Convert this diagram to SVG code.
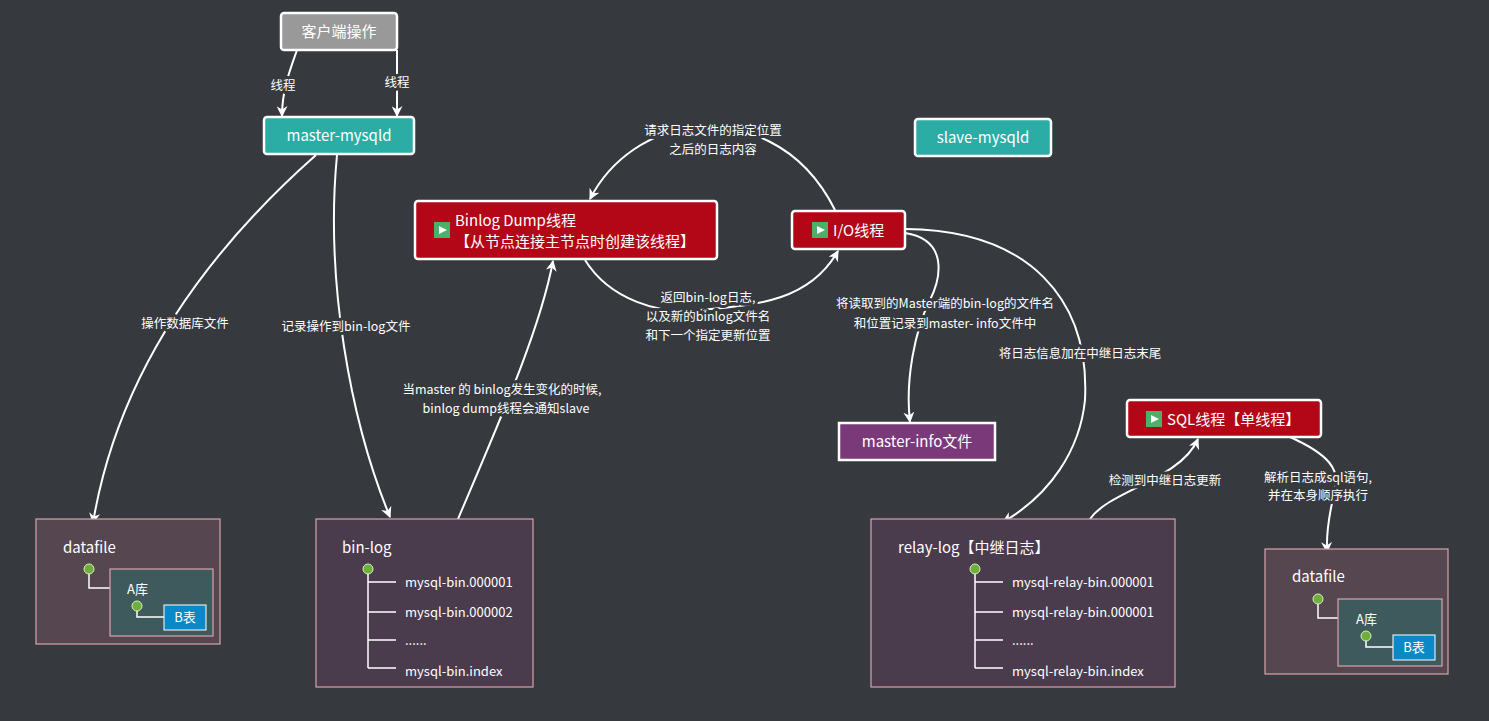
<svg xmlns="http://www.w3.org/2000/svg" width="1489" height="721" viewBox="0 0 1489 721">
<defs>
<marker id="ah" viewBox="0 0 10 10" refX="9" refY="5" markerWidth="11" markerHeight="11" orient="auto-start-reverse" markerUnits="userSpaceOnUse"><path d="M0,0 L10,5 L0,10 L3,5 z" fill="#fff"/></marker>
<style>
text{font-family:"Microsoft YaHei","Noto Sans CJK SC",sans-serif;fill:#fff}
.lbl{font-size:12.5px;text-anchor:middle}
.lbl text{paint-order:stroke;stroke:#36393d;stroke-width:6px;stroke-linejoin:round}
.nd{font-size:15px;text-anchor:middle}
.e{fill:none;stroke:#fff;stroke-width:2;marker-end:url(#ah)}
.tl{stroke:#fff;stroke-width:1.5;fill:none}
.box{stroke:#d9a3ab;stroke-width:1.2}
.mini{fill:#6fae3a;stroke:#d8f0c0;stroke-width:1}
</style>
</defs>
<rect width="1489" height="721" fill="#36393d"/>
<g id="connectors">
<path class="e" d="M297,50 C290,70 282,90 282,116"/>
<path class="e" d="M397,50 L397,116"/>
<path class="e" d="M316,155 C220,240 120,360 93,523"/>
<path class="e" d="M337,155 C325,280 350,420 390,517"/>
<path class="e" d="M458,519 C500,420 540,330 553,261"/>
<path class="e" d="M835,210 C800,140 740,125 700,127 C650,130 610,160 590,199"/>
<path class="e" d="M585,260 C610,300 660,315 700,310 C760,305 810,300 838,251"/>
<path class="e" d="M905,233 C950,240 940,280 930,300 C915,330 905,380 910,422"/>
<path class="e" d="M905,229 C1030,230 1090,300 1085,400 C1080,450 1050,495 1003,522"/>
<path class="e" d="M1090,519 C1110,490 1180,480 1198,439"/>
<path class="e" d="M1290,437 C1330,455 1340,470 1335,490 C1330,510 1326,530 1327,552"/>
<g class="lbl">
<text x="283" y="90">线程</text>
<text x="397" y="87">线程</text>
<text x="185" y="328">操作数据库文件</text>
<text x="346" y="331">记录操作到bin-log文件</text>
<text x="502" y="394">当master 的 binlog发生变化的时候,</text>
<text x="506" y="413">binlog dump线程会通知slave</text>
<text x="713" y="135">请求日志文件的指定位置</text>
<text x="713" y="154">之后的日志内容</text>
<text x="708" y="302">返回bin-log日志,</text>
<text x="708" y="321">以及新的binlog文件名</text>
<text x="708" y="340">和下一个指定更新位置</text>
<text x="945" y="308">将读取到的Master端的bin-log的文件名</text>
<text x="945" y="328">和位置记录到master- info文件中</text>
<text x="1080" y="358">将日志信息加在中继日志末尾</text>
<text x="1165" y="485">检测到中继日志更新</text>
<text x="1318" y="482">解析日志成sql语句,</text>
<text x="1318" y="500">并在本身顺序执行</text>
</g>
</g>
<g id="client"><rect x="281" y="13" width="116" height="37" rx="3" fill="#999" stroke="#fff" stroke-width="2.5"/><text class="nd" x="339" y="37">客户端操作</text></g>
<g id="master-mysqld"><rect x="264" y="117" width="150" height="37" rx="3" fill="#2bada5" stroke="#fff" stroke-width="2.5"/><text class="nd" x="339" y="141">master-mysqld</text></g>
<g id="slave-mysqld"><rect x="915" y="119" width="136" height="37" rx="3" fill="#2bada5" stroke="#fff" stroke-width="2.5"/><text class="nd" x="983" y="143">slave-mysqld</text></g>
<g id="binlog-dump"><rect x="415" y="201" width="302" height="58" rx="3" fill="#b30717" stroke="#fff" stroke-width="2.5"/><rect x="434" y="222" width="16" height="16" fill="#4caf6a"/><path d="M439,226 L447,230 L439,234z" fill="#fff"/><text x="455" y="226" font-size="15">Binlog Dump线程</text><text x="455" y="247" font-size="15">【从节点连接主节点时创建该线程】</text></g>
<g id="io"><rect x="792" y="211" width="113" height="38" rx="3" fill="#b30717" stroke="#fff" stroke-width="2.5"/><rect x="812" y="222" width="16" height="16" fill="#4caf6a"/><path d="M817,226 L825,230 L817,234z" fill="#fff"/><text x="833" y="236" font-size="15">I/O线程</text></g>
<g id="master-info"><rect x="839" y="423" width="156" height="37" fill="#7a3a7a" stroke="#fff" stroke-width="2.5"/><text class="nd" x="917" y="447">master-info文件</text></g>
<g id="sql"><rect x="1127" y="400" width="194" height="37" rx="3" fill="#b30717" stroke="#fff" stroke-width="2.5"/><rect x="1146" y="411" width="16" height="16" fill="#4caf6a"/><path d="M1151,415 L1159,419 L1151,423z" fill="#fff"/><text x="1167" y="425" font-size="15">SQL线程【单线程】</text></g>
<g id="datafile1">
<rect class="box" x="36" y="519" width="184" height="125" fill="#56464f"/>
<text x="63" y="553" font-size="15">datafile</text>
<path class="tl" d="M89,568 L89,588 L118,588"/>
<circle class="mini" cx="89" cy="569" r="5"/>
<rect class="box" x="110" y="569" width="103" height="67" fill="#3f5a5d"/>
<text x="127" y="594" font-size="13">A库</text>
<path class="tl" d="M137,605 L137,617 L164,617"/>
<circle class="mini" cx="137" cy="606" r="5"/>
<rect x="164" y="605" width="42" height="25" fill="#0a88c8" stroke="#fff"/>
<text x="185" y="622" font-size="13" text-anchor="middle">B表</text>
</g>
<g id="bin-log">
<rect class="box" x="316" y="519" width="217" height="168" fill="#4a3b4d"/>
<text x="342" y="553" font-size="15">bin-log</text>
<path class="tl" d="M368,566 L368,668 M368,582 L396,582 M368,612 L396,612 M368,640 L396,640 M368,668 L396,668"/>
<circle class="mini" cx="368" cy="569" r="5"/>
<g font-size="13"><text x="405" y="587">mysql-bin.000001</text><text x="405" y="617">mysql-bin.000002</text><text x="405" y="645">......</text><text x="405" y="676">mysql-bin.index</text></g>
</g>
<g id="relay-log">
<rect class="box" x="871" y="519" width="304" height="168" fill="#4a3b4d"/>
<text x="898" y="553" font-size="15">relay-log【中继日志】</text>
<path class="tl" d="M975,566 L975,668 M975,582 L1003,582 M975,612 L1003,612 M975,640 L1003,640 M975,668 L1003,668"/>
<circle class="mini" cx="975" cy="569" r="5"/>
<g font-size="13"><text x="1012" y="587">mysql-relay-bin.000001</text><text x="1012" y="617">mysql-relay-bin.000001</text><text x="1012" y="645">......</text><text x="1012" y="676">mysql-relay-bin.index</text></g>
</g>
<g id="datafile2">
<rect class="box" x="1265" y="549" width="183" height="125" fill="#56464f"/>
<text x="1292" y="582" font-size="15">datafile</text>
<path class="tl" d="M1318,598 L1318,618 L1346,618"/>
<circle class="mini" cx="1318" cy="599" r="5"/>
<rect class="box" x="1338" y="599" width="104" height="67" fill="#3f5a5d"/>
<text x="1356" y="624" font-size="13">A库</text>
<path class="tl" d="M1366,635 L1366,647 L1393,647"/>
<circle class="mini" cx="1366" cy="636" r="5"/>
<rect x="1393" y="635" width="42" height="25" fill="#0a88c8" stroke="#fff"/>
<text x="1414" y="652" font-size="13" text-anchor="middle">B表</text>
</g>
</svg>
